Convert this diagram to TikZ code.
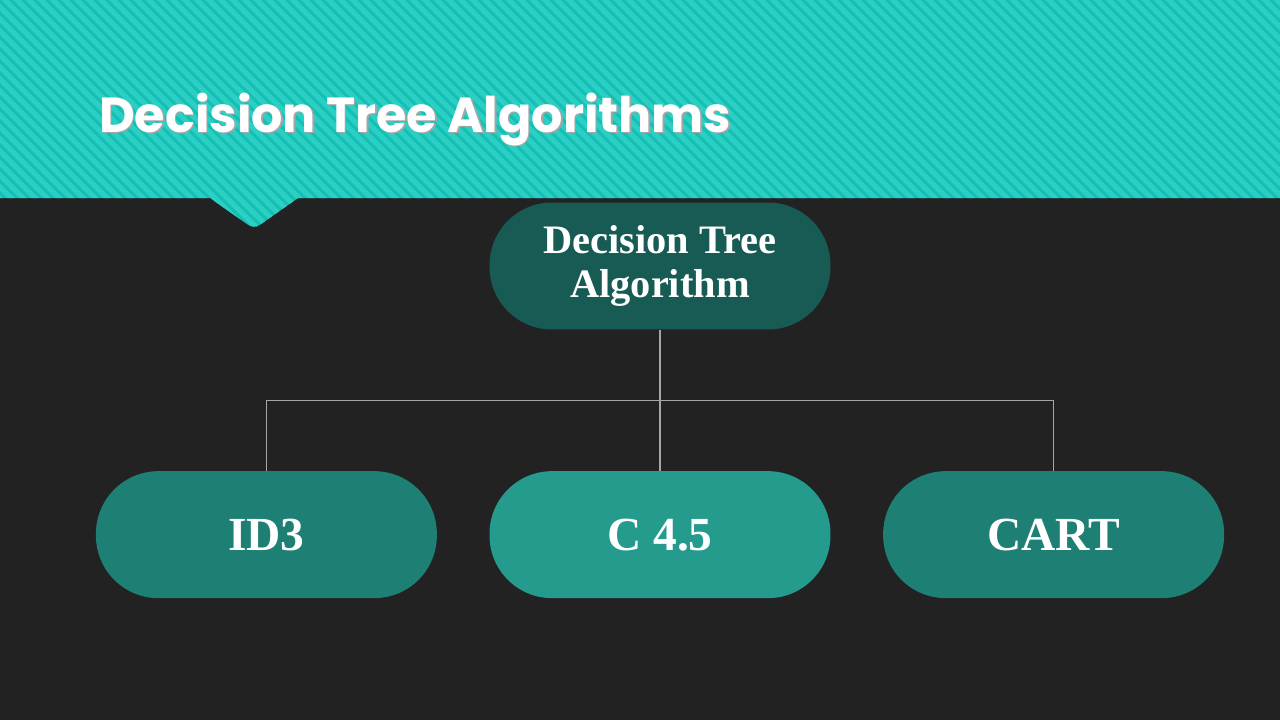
\documentclass[tikz,border=0pt]{standalone}
\usepackage{fontspec}
\setmainfont{Liberation Serif}
\newfontfamily\headfont{Poppins}
\usetikzlibrary{positioning}
\definecolor{slatebg}{HTML}{222222}
\definecolor{bandteal}{HTML}{14BFB3}
\definecolor{stripeteal}{HTML}{2BCFC4}
\definecolor{rootteal}{HTML}{175B54}
\definecolor{leafteal}{HTML}{1E7F74}
\definecolor{midteal}{HTML}{259B8E}
\definecolor{linkgray}{HTML}{A6A6A6}
\tikzset{
	pill/.style={
		rectangle,
		rounded corners=1.25cm,
		minimum width=6.82cm,
		minimum height=2.54cm,
		text=white,
		align=center,
		font=\bfseries
	},
	rootpill/.style={
		pill,
		fill=rootteal,
		font=\fontsize{23}{25}\selectfont\bfseries
	},
	leafpill/.style={
		pill,
		fill=leafteal,
		font=\fontsize{27}{32}\selectfont\bfseries
	},
	link/.style={
		draw=linkgray,
		line width=0.6pt
	},
	headtext/.style={
		anchor=base west,
		font=\headfont\fontsize{28}{34}\selectfont\bfseries
	},
}

\begin{document}
\begin{tikzpicture}[x=0.02cm,y=-0.02cm]
	\useasboundingbox (0,0) rectangle (1280,720);
	\fill[slatebg] (0,0) rectangle (1280,720);
	% header band with pointer
	\begin{scope}
		\clip[rounded corners=0pt] (0,0) -- (1280,0) -- (1280,198) -- (298,198)
			[rounded corners=4pt] -- (254,229) [rounded corners=0pt] -- (210,198) -- (0,198) -- cycle;
		\fill[bandteal] (0,0) rectangle (1280,240);
		\foreach \i in {-264,-252,...,1290}
			\draw[stripeteal,line width=0.1cm] (\i,-5) -- (\i+250,245);
	\end{scope}
	\node[headtext,text=black!35] at (94.5,133.5) {Decision Tree Algorithms};
	\node[headtext,text=white] (title) at (93,132) {Decision Tree Algorithms};
	% tree
	\node[rootpill] (root) at (660,266) {Decision Tree\\Algorithm};
	\node[leafpill,fill=midteal] (c45) [below=2.82cm of root] {C 4.5};
	\node[leafpill] (id3) [left=1.04cm of c45] {ID3};
	\node[leafpill] (cart) [right=1.04cm of c45] {CART};
	\path (root.south) -- (c45.north) coordinate[midway] (bus);
	\draw[link] (root.south) -- (c45.north);
	\draw[link] (id3.north) |- (bus) -| (cart.north);
\end{tikzpicture}
\end{document}
